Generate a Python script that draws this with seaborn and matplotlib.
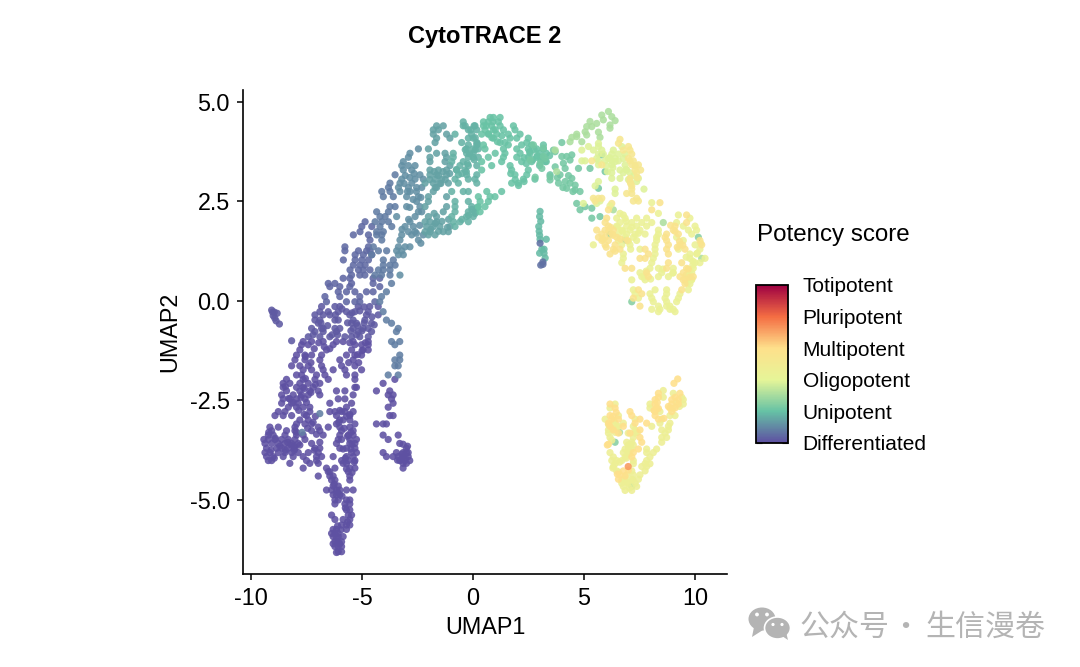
import matplotlib
matplotlib.use("Agg")
import matplotlib.pyplot as plt
import numpy as np
import pandas as pd
import seaborn as sns
from matplotlib.cm import ScalarMappable
from matplotlib.colors import LinearSegmentedColormap, Normalize
from matplotlib.patches import Circle, Ellipse, Polygon

# Cells are listed row by row: UMAP2 value -> UMAP1 values, grouped by potency score.
DIFF_DEEP = {
    -1.02: [-7.65, -7.27, -6.75, -6.15, -5.85, -5.4, -4.72], -1.1: [-7.72, -7.42, -6.3, -5.32, -5.02, -4.72],
    -1.23: [-7.8, -6.6, -5.47, -4.95, -4.72], -1.36: [-7.95, -7.57, -7.27, -6.82, -5.7, -5.32, -5.02],
    -1.48: [-8.02, -7.57, -6.9, -6.0, -5.4], -1.63: [-8.17, -7.8, -7.42, -6.82, -5.92, -5.32],
    -1.73: [-7.65, -7.27, -6.75, -6.3, -5.77, -5.02], -1.86: [-7.95, -7.72, -7.05, -6.67, -5.7, -5.32],
    -1.97: [-8.4, -7.65, -7.12, -6.52, -5.32, -3.52], -2.07: [-8.55, -8.25, -7.8, -7.42, -6.9, -4.05],
    -2.17: [-8.55, -7.95, -7.65, -7.2, -5.32, -5.25], -2.26: [-8.4, -7.8, -7.35, -6.97, -6.15, -5.77, -4.35, -3.75],
    -2.36: [-8.62, -8.1, -7.72, -7.42, -6.9, -5.4, -3.82, -3.6], -2.46: [-8.55, -8.25, -7.95, -7.57, -6.07, -5.77, -3.67],
    -2.57: [-8.62, -8.17, -7.87, -6.45, -5.47, -3.6], -2.67: [-8.32, -7.95, -7.65, -7.35, -5.7, -3.82],
    -2.78: [-8.77, -8.47, -7.35, -6.45, -6.22, -5.92, -5.77, -5.4], -2.88: [-8.92, -8.55, -8.17, -7.5, -6.15, -5.55, -3.6, -3.75],
    -2.99: [-7.8, -7.42, -6.0, -5.85, -5.55], -3.09: [-7.95, -7.57, -7.27, -6.15, -5.32, -4.35, -4.05, -3.9],
    -3.17: [-9.15, -8.77, -8.02, -6.97, -6.52, -6.0, -5.55], -3.26: [-9.07, -8.4, -8.02, -7.27, -6.9, -5.92, -5.4],
    -3.37: [-9.22, -9.0, -8.47, -7.95, -7.65, -6.75, -6.0, -5.62, -5.4, -4.05, -3.37],
    -3.48: [-9.42, -9.22, -8.92, -8.62, -8.32, -8.02, -7.57, -6.07, -5.92, -5.55, -5.25, -3.82],
    -3.58: [-9.37, -9.07, -8.77, -8.47, -8.17, -7.87, -7.27, -6.15, -5.55, -5.32, -3.3],
    -3.7: [-9.3, -8.85, -8.62, -8.32, -8.02, -7.12, -6.9, -6.0, -5.7, -5.32, -3.0],
    -3.81: [-9.37, -9.15, -8.77, -8.47, -8.17, -7.87, -7.42, -6.97, -5.47, -5.25, -4.05, -3.45, -3.15, -2.92],
    -3.91: [-9.3, -9.0, -8.55, -8.1, -7.65, -7.05, -6.82, -6.3, -5.7, -5.4, -3.9, -3.6, -3.37, -3.15, -2.92],
    -4.01: [-9.22, -9.07, -7.5, -7.05, -5.92, -5.62, -5.32, -3.3, -3.07, -2.85],
    -4.08: [-8.25, -7.35, -6.97, -5.85, -5.7, -3.15, -3.0], -4.2: [-7.65, -6.6, -6.22, -5.55, -5.32, -3.15],
    -4.29: [-6.52, -6.45, -5.62], -4.4: [-6.97, -6.45, -6.3, -5.55], -4.5: [-6.37, -6.22, -5.55], -4.65: [-6.3, -6.07],
    -4.75: [-6.6, -6.37, -6.15, -6.0, -5.7, -5.4], -4.87: [-6.3, -6.15, -6.0], -5.0: [-6.22, -6.07, -5.7, -5.55],
    -5.1: [-6.22, -5.77, -5.55], -5.25: [-5.7, -5.55], -5.38: [-6.37, -5.62, -5.47], -5.49: [-6.22, -5.85, -5.55],
    -5.63: [-5.92, -5.7, -5.55], -5.74: [-6.3, -6.15, -5.7], -5.84: [-6.37, -6.22, -6.07], -5.92: [-6.3, -6.07, -5.85],
    -6.05: [-6.22, -6.07, -5.92], -6.17: [-6.22, -6.07, -5.92], -6.3: [-6.07, -5.92],
}
DIFF_DEEP_EXTRA = {
    -3.45: [-8.9], -3.65: [-8.7, -8.05 + 0, -2.95], -3.75: [-9.1, -8.05, -8.45, -7.15], -3.62: [-8.2, -7.8],
    -3.3: [-9.2, -7.95, -5.5], -3.95: [-8.95, -5.75, -3.05], -3.55: [-8.35, -6.9], -2.2: [-7.6], -2.42: [-7.75],
    -2.55: [-7.5, -8.1], -2.3: [-7.3], -2.1: [-7.1], -1.95: [-7.55], -2.75: [-7.85, -6.0], -2.85: [-7.6, -5.55],
    -2.45: [-8.3], -2.15: [-8.45], -1.55: [-7.3, -5.6, -5.15], -1.4: [-7.55], -1.2: [-7.15, -6.45], -1.05: [-6.95, -5.55, -4.85],
    -1.15: [-6.7], -2.9: [-7.1, -5.7], -3.05: [-7.2, -6.05], -3.2: [-7.45, -5.8], -3.35: [-7.05], -3.4: [-5.65],
    -3.72: [-5.85, -5.5], -3.6: [-5.45, -3.15], -4.05: [-5.35], -4.22: [-5.7], -4.31: [-5.45], -4.6: [-6.25],
    -4.8: [-6.1], -4.9: [-5.9], -5.2: [-5.75], -5.55: [-5.65], -5.95: [-6.15], -6.1: [-6.0, -6.3], -6.32: [-6.15],
    -5.75: [-5.95], -5.65: [-6.1], -3.85: [-3.2], -4.0: [-3.25, -3.4], -3.8: [-3.0], -1.25: [-5.0], -1.35: [-5.2],
}
DIFF_UPPER = {
    -0.23: [-9.07], -0.28: [-8.95, -9.03], -0.31: [-8.82], -0.37: [-9.0], -0.43: [-8.93], -0.5: [-8.87], -0.55: [-8.8],
    -0.58: [-8.72], -0.62: [-8.68],
    -0.14: [-6.82, -6.22, -6.0, -5.17, -4.65, -4.27], -0.27: [-6.9, -6.52, -6.07, -5.7, -5.32, -4.72],
    -0.35: [-7.12, -6.75, -6.45, -5.55, -4.8, -4.27, -6.2], -0.48: [-7.12, -6.9, -6.22, -6.07, -5.4, -4.87],
    -0.56: [-6.97, -5.47, -5.25, -4.57], -0.69: [-7.27, -6.82, -6.75, -6.22, -6.0, -5.4, -4.95, -4.72],
    -0.77: [-7.12, -6.75, -6.15, -5.17, -4.57], -0.9: [-7.42, -6.9, -6.45, -5.77, -5.47, -5.1, -4.72], -1.0: [-8.17],
    -0.85: [-7.2, -5.25, -6.35, -6.1], -0.62: [-6.55, -5.2], -0.55: [-6.85, -4.9, -5.65], -0.75: [-5.5, -5.0],
    -0.2: [-5.9], -0.3: [-5.45], -0.25: [-5.1], -0.15: [-4.9], -0.4: [-4.55], -0.6: [-4.45],
}
DIFF_TOP = {
    0.44: [-6.52, -6.22, -5.47, -4.5], 0.36: [-6.45, -6.0, -5.55, -4.2], 0.23: [-6.07, -5.7, -5.32, -4.8, -4.5],
    0.11: [-6.67, -6.0, -5.1], -0.02: [-6.6, -5.7, -5.32, -5.1, -4.42], 0.57: [-5.85, -5.55, -4.5, -4.2],
}
STRAND = {
    0.44: [-3.67], 0.23: [-3.9], 0.11: [-4.12], -0.02: [-4.2], -0.27: [-4.05], -0.48: [-3.9], -0.56: [-3.67],
    -0.69: [-3.37], -0.77: [-3.45], -1.02: [-3.67, -3.3], -1.1: [-3.52], -1.36: [-3.3], -1.48: [-3.52, -3.3],
    -1.63: [-3.37, -3.52], -1.86: [-3.82, -3.37], -2.83: [-6.9], -3.3: [-7.7],
}
ARC_1 = {
    0.65: [-5.47, -5.1, -4.87], 0.78: [-5.54, -5.16, -4.94, -4.64], 0.9: [-5.39, -5.09, -4.86],
    1.03: [-5.84, -5.31, -5.01, -4.71], 1.16: [-5.31, -4.94, -4.56], 1.26: [-5.77, -5.16, -4.79, -4.64],
    1.36: [-5.77, -4.71], 1.53: [-4.64], 1.66: [-5.39, -4.71], 1.74: [-5.09], 1.87: [-5.01, -4.56], 1.99: [-4.86],
}
ARC_2 = {
    0.65: [-4.42, -4.12, -3.74], 0.78: [-4.26, -4.04, -3.74], 0.9: [-4.04, -3.74, -3.51], 1.03: [-4.04, -3.59],
    1.16: [-4.56], 1.26: [-4.26, -3.89], 1.36: [-4.49], 1.53: [-4.11], 1.66: [-4.34, -4.11], 1.74: [-4.34, -4.04],
    1.87: [-4.19, -3.66], 1.99: [-4.41, -4.11, -3.81], 2.12: [-4.19, -3.96], 2.24: [-4.34, -3.81],
    2.37: [-3.74, -3.51], 2.62: [-4.04, -3.59], 2.75: [-4.11, -3.74], 2.85: [-3.81], 2.96: [-3.74], 3.17: [-3.51],
}
ARC_3 = {
    0.65: [-3.29], 1.16: [-3.36, -3.14], 1.26: [-3.44, -3.21], 1.36: [-3.36, -3.06, -2.84], 1.45: [-2.35],
    1.53: [-3.29, -2.46], 1.66: [-3.21, -2.76, -2.24], 1.7: [-2.55], 1.74: [-2.91, -2.61], 1.8: [-3.2],
    1.87: [-3.06, -2.69], 1.9: [-2.4], 1.99: [-2.84], 2.05: [-2.9], 2.12: [-3.44, -2.61],
    2.24: [-2.46, -2.31], 2.35: [-2.85], 2.37: [-2.99, -2.39], 2.5: [-2.54], 2.55: [-2.7], 2.6: [-2.35],
    2.62: [-2.99, -2.46], 2.75: [-3.29, -2.84, -2.95, -2.55],
    2.85: [-3.36, -2.91, -2.54, -2.31], 2.95: [-3.1], 2.96: [-3.29, -2.76], 3.06: [-3.21, -2.61, -2.24], 3.1: [-2.85],
    3.15: [-3.05], 3.17: [-2.39], 3.2: [-2.65],
    3.29: [-3.14, -2.76], 3.4: [-3.21, -2.91, -2.61], 3.5: [-3.14], 3.61: [-2.91], 3.71: [-2.84], 3.82: [-2.46],
}
ARC_4 = {
    1.66: [-2.01, -1.71], 1.74: [-2.16, -1.94, -1.34, -1.11], 1.75: [-1.55], 1.8: [-1.9], 1.85: [-1.15],
    1.87: [-2.09, -1.79, -1.49, -1.04], 1.95: [-1.7],
    1.99: [-2.16, -1.94, -1.64], 2.0: [-1.4], 2.05: [-1.1], 2.12: [-2.01, -1.64], 2.2: [-1.75], 2.24: [-1.34],
    2.37: [-2.16, -1.19], 2.5: [-2.01],
    2.62: [-2.01, -1.19], 2.75: [-1.79], 2.85: [-1.64, -1.7], 2.95: [-1.45], 2.96: [-2.16, -1.79, -1.49, -1.11],
    3.05: [-1.95, -1.25], 3.06: [-1.71, -1.41], 3.15: [-1.55],
    3.17: [-1.94, -1.64, -1.19], 3.2: [-1.05], 3.25: [-1.35, -1.75], 3.29: [-1.94, -1.56, -1.19], 3.4: [-1.04],
    3.5: [-1.94, -1.26], 3.61: [-1.94, -1.19],
    3.71: [-1.64, -1.26], 3.82: [-2.01], 3.98: [-1.71], 4.09: [-1.64, -1.04], 4.19: [-1.79, -1.19], 4.3: [-1.79, -1.56],
    4.4: [-1.64, -1.34],
}
ARC_5 = {
    1.87: [-0.81], 1.99: [-0.88, -0.58, -0.21], 2.05: [-0.5], 2.12: [-0.96, -0.29, 0.01], 2.15: [-0.2], 2.2: [0.1],
    2.24: [-0.81, -0.21, 0.09], 2.3: [-0.05], 2.35: [0.2],
    2.37: [-0.81, -0.06], 2.5: [-0.81, -0.21], 2.75: [-0.96, -0.44, -0.21], 2.96: [-0.66, 0.17],
    3.06: [-0.81, -0.21, 0.09], 3.17: [-0.66, -0.29, 0.17], 3.2: [-0.5], 3.25: [-0.3], 3.29: [-0.74, -0.36], 3.3: [-0.75],
    3.4: [-0.59, -0.21, 0.17], 3.45: [-0.25],
    3.5: [-0.96, -0.44], 3.55: [0.05], 3.61: [-0.89, -0.21, 0.01, 0.24], 3.7: [-0.15], 3.71: [-0.89, -0.29, 0.01],
    3.8: [-0.35, 0.1], 3.82: [-0.29, 0.01, 0.24], 3.92: [-0.21, 0.17], 3.95: [0.2], 3.98: [-0.51, 0.17], 4.09: [-0.21, 0.01],
    4.1: [0.1], 4.19: [-0.81, -0.06], 4.3: [-0.21, 0.17, -0.1], 4.4: [-0.44, 0.09, -0.35, 0.05], 4.5: [-0.44],
}
ARC_6 = {
    2.24: [0.32], 2.37: [0.24, 0.54], 2.5: [0.32, 0.69], 2.62: [0.24, 0.77, 0.99], 2.75: [0.62, 1.29], 2.96: [1.74, 2.04],
    2.9: [2.05], 3.0: [2.3], 3.05: [1.9], 3.2: [1.7],
    3.06: [2.27, 2.79], 3.17: [1.89, 2.42, 3.47], 3.29: [0.39, 1.74, 2.49], 3.4: [0.84, 1.67, 3.0], 3.45: [2.4],
    3.5: [0.39, 1.29, 2.19, 2.64, 3.25, 3.3], 3.55: [2.7, 3.05], 3.6: [2.3], 3.61: [0.69, 1.37, 1.97, 2.49, 2.87, 3.09],
    3.65: [2.9, 3.45], 3.71: [1.0, 1.44, 2.12, 2.57, 3.0, 3.3], 3.75: [2.55], 3.8: [2.75],
    3.82: [0.54, 1.37, 1.97, 2.49, 2.87, 3.17],
    3.92: [0.47, 1.59, 2.19, 2.64, 3.17], 3.98: [1.22, 1.44, 2.42], 4.0: [1.1], 4.09: [0.92, 1.67, 1.97, 2.49],
    4.1: [0.85], 4.15: [1.3], 4.19: [0.39, 0.69, 1.07, 1.59, 2.12], 4.2: [0.7], 4.3: [0.54, 0.92, 1.37, 1.89, 1.0],
    4.4: [0.47, 0.84, 1.22, 1.82, 0.6], 4.5: [0.47, 0.69, 1.14, 0.9], 4.61: [0.77, 0.92, 1.22],
}
ARC_7 = {
    3.98: [4.0], 3.79: [3.62], 3.75: [3.7], 3.92: [2.72], 3.84: [3.17], 3.67: [2.72], 3.63: [3.17, 4.22, 4.0],
    3.54: [2.57, 4.37], 3.46: [3.02, 4.07], 3.58: [3.25], 3.33: [3.1, 4.15, 4.75, 5.27], 3.11: [2.8],
    3.37: [3.7], 3.17: [3.92], 3.12: [3.47], 3.04: [3.47], 2.96: [3.85, 4.37], 3.0: [4.15], 3.08: [4.45],
    2.91: [4.6], 2.85: [4.05], 2.83: [4.22, 5.65], 2.79: [4.6], 2.75: [4.82, 4.5], 3.15: [4.3], 3.1: [3.8],
    2.45: [4.67], 2.37: [5.05], 2.29: [4.82], 2.33: [5.35],
    2.08: [5.35], 2.12: [5.72], 3.25: [5.95], 3.67: [4.45, 5.8],
}
ARC_TIP = {
    4.76: [6.1], 4.63: [6.25], 4.67: [5.8], 4.51: [5.27], 4.46: [5.57], 4.53: [6.4], 4.55: [5.87], 4.42: [6.17],
    4.38: [5.35, 5.12], 4.34: [6.17], 4.25: [5.05], 4.24: [5.65], 4.19: [4.67], 4.17: [5.12], 4.11: [4.45, 5.72],
    4.13: [4.67], 4.0: [4.37, 4.9], 3.79: [3.7], 3.25: [3.77], 2.29: [6.32], 1.97: [8.57], 1.07: [10.3], -3.3: [6.6],
    -4.66: [7.15],
}
SIDE_ISLET = {
    2.25: [3.02], 2.12: [3.0], 2.0: [3.05], 1.87: [2.96], 1.75: [2.98], 1.65: [3.0], 1.55: [3.02, 3.3],
    1.3: [3.1, 3.2], 1.2: [3.0, 3.2], 1.08: [3.25],
}
SIDE_ISLET_DARK = {1.45: [3.02], 0.98: [3.15], 0.9: [3.05], 0.92: [3.15]}
TEAL_SINGLES = {1.68: [6.17], 1.53: [6.85], 1.6: [10.15], -0.02: [7.15], -3.55: [6.4]}
UPPER_YELLOW = {
    3.96: [5.65], 3.88: [5.2, 5.65, 6.7], 3.79: [4.9, 5.42, 5.8, 6.32], 3.69: [5.65, 5.87, 6.25, 6.55, 6.85],
    3.6: [6.15], 3.58: [5.57, 6.1, 6.4, 6.77], 3.52: [4.9, 5.05, 5.65, 5.95, 6.25, 6.55], 3.5: [6.4],
    3.42: [5.65, 6.25, 6.85], 3.4: [6.0], 3.35: [6.3], 3.3: [6.9], 3.25: [6.05], 3.15: [7.25], 3.05: [7.0],
    3.29: [6.62, 6.92], 3.22: [6.25, 6.77, 7.07], 3.08: [6.25, 6.62, 7.45], 3.0: [5.65, 7.37], 2.89: [5.5],
    2.81: [6.4, 7.7], 2.7: [6.4], 2.51: [5.72], 2.45: [4.97, 5.57],
}
UPPER_PEACH = {
    4.06: [6.62], 3.96: [6.55], 3.88: [7.0], 3.79: [6.77, 7.07], 3.69: [7.15], 3.58: [7.0], 3.52: [5.35, 7.07, 7.22],
    3.42: [5.8, 7.15, 7.45], 3.4: [7.3], 3.29: [7.3, 7.55], 3.22: [7.37], 3.1: [7.4], 3.08: [7.07], 3.0: [7.07],
    2.95: [7.1], 2.89: [7.15], 2.81: [7.15],
    2.7: [6.92, 7.15], 2.58: [5.42, 5.65, 5.8, 7.37], 2.51: [5.5, 7.22, 7.45], 2.45: [6.25],
}
BLOB_YELLOW = {
    2.47: [8.05], 2.39: [6.17], 2.2: [6.62, 8.35], 2.16: [6.77, 9.25], 2.08: [6.47, 6.85, 7.37, 7.82, 9.77],
    2.0: [6.9], 1.97: [6.62, 7.15, 7.6, 8.05, 9.17], 1.88: [6.47, 6.92, 7.37, 7.82, 9.47, 10.0], 1.85: [7.15, 6.5],
    1.78: [6.7, 7.07, 7.52, 8.35, 9.7, 10.07], 1.75: [6.75], 1.7: [7.45], 1.68: [6.55, 6.92, 7.3, 7.75, 8.35, 9.85],
    1.6: [6.85, 7.22, 8.27, 9.17], 1.52: [6.55, 7.37, 8.27, 9.47], 1.5: [7.0], 1.45: [10.25],
    1.41: [5.42, 6.7, 7.07, 8.2, 10.0], 1.3: [7.52, 8.2, 9.25, 10.22, 7.1], 1.2: [10.1],
    1.18: [6.77, 8.2, 9.77, 10.07], 1.1: [9.6], 1.07: [6.77, 8.12, 9.77, 10.45], 1.0: [9.9],
    0.96: [6.7, 8.05, 10.0, 10.22], 0.9: [9.9], 0.82: [7.97, 8.35, 9.02, 9.92], 0.8: [8.55], 0.75: [9.75, 7.8],
    0.71: [7.52, 8.5, 9.02, 9.85], 0.7: [9.0], 0.65: [9.6], 0.6: [7.7],
    0.61: [7.6, 8.35, 8.8, 9.7], 0.55: [9.85, 8.0], 0.53: [7.15, 7.75, 9.85], 0.45: [9.65], 0.43: [9.77],
    0.28: [7.22, 8.2, 8.72, 9.7],
    0.18: [7.3, 7.97, 8.72, 9.32], 0.07: [7.45, 8.05, 8.65, 9.25], -0.02: [8.12, 8.72, 9.17],
    -0.13: [8.35, 8.72, 8.87], -0.21: [8.05, 8.42, 8.87, 9.02], -0.27: [8.35, 9.1],
}
BLOB_PEACH = {
    2.47: [8.42], 2.29: [6.1, 8.05], 2.16: [9.62], 2.08: [6.02], 1.97: [5.95, 9.62], 1.9: [8.9],
    1.88: [6.1, 9.1], 1.85: [6.2], 1.78: [5.57, 5.95, 6.32, 9.02], 1.75: [6.1, 9.1],
    1.68: [5.8, 6.27, 8.72, 9.25], 1.65: [6.3], 1.6: [5.65, 5.95, 6.47, 8.65], 1.55: [5.85, 6.65],
    1.52: [5.8, 6.1, 6.95, 8.72, 10.22], 1.5: [9.3], 1.41: [5.95, 6.4, 8.8, 9.32, 10.3], 1.4: [9.45],
    1.35: [9.2, 6.0], 1.3: [6.32, 6.62, 7.75, 8.72, 9.55], 1.25: [6.4],
    1.18: [6.17, 7.9, 8.8], 1.07: [7.52, 7.75], 0.96: [8.8, 9.4], 0.82: [6.85, 7.15, 8.72, 9.62], 0.8: [9.7],
    0.71: [7.82, 9.47], 0.6: [9.75], 0.61: [7.9, 9.32, 9.92], 0.55: [9.55], 0.53: [9.47], 0.43: [9.55],
    0.28: [7.45, 9.4], 0.18: [7.6], 0.07: [7.22], -0.13: [7.52],
}
LOBE_YELLOW = {
    -2.25: [8.57], -2.32: [9.02], -2.42: [8.57, 9.4], -2.48: [9.47], -2.55: [9.15], -2.59: [6.4, 7.97, 9.47],
    -2.65: [9.3], -2.69: [6.17, 7.97], -2.7: [9.0],
    -2.78: [8.42], -2.88: [6.55, 8.87, 9.1], -2.97: [5.95, 7.3, 8.5], -3.0: [6.35], -3.07: [6.4, 6.77, 8.42, 8.87],
    -3.1: [6.1], -3.15: [6.47, 7.22, 8.05, 8.8, 6.55], -3.2: [6.25], -3.24: [6.1, 7.3, 8.5, 8.8], -3.3: [6.4, 7.4],
    -3.32: [6.1, 6.99, 7.3, 8.65], -3.43: [6.17, 7.22, 8.5, 8.72], -3.5: [6.25], -3.55: [6.92, 7.15, 8.5],
    -3.6: [7.1], -3.62: [6.99, 7.22], -3.7: [7.0], -3.72: [6.85, 7.15, 7.82, 8.27], -3.85: [7.05],
    -3.81: [6.17, 6.77, 6.99, 7.82, 8.12], -3.92: [6.32, 6.85, 7.97], -3.95: [6.9],
    -4.01: [6.25, 6.47, 6.7, 7.22, 7.82], -4.05: [6.6],
    -4.09: [6.4, 7.22, 7.75, 7.97], -4.16: [6.32, 7.6, 7.82], -4.2: [6.3], -4.27: [6.47, 7.15, 7.75], -4.3: [6.55],
    -4.37: [6.92, 7.22, 7.52], -4.48: [6.85, 7.15, 7.45], -4.5: [6.7, 7.2], -4.55: [6.95],
    -4.58: [6.7, 6.99, 7.3], -4.66: [6.77, 7.37], -4.7: [7.05], -4.76: [6.85, 7.15],
}
LOBE_PEACH = {
    -1.96: [9.22], -2.07: [9.05], -2.32: [8.35, 9.32], -2.42: [8.35, 9.1], -2.48: [8.2, 8.95, 9.25], -2.55: [8.3],
    -2.59: [6.17, 8.2, 8.95, 9.25], -2.65: [8.8], -2.69: [6.4, 8.27, 8.87, 9.1], -2.7: [8.35], -2.75: [8.15],
    -2.78: [7.07, 8.2, 8.95], -2.8: [6.45], -2.88: [6.17, 7.15, 8.2], -2.9: [6.3], -2.95: [8.6],
    -2.97: [6.25, 6.55, 7.52, 8.35], -3.07: [6.1, 7.3, 7.82],
    -3.15: [6.17, 6.77], -3.24: [6.32, 7.52], -3.32: [6.55, 7.07], -3.43: [7.52], -3.55: [7.6], -3.6: [6.1], -3.62: [6.05],
    -3.72: [7.45], -3.81: [7.22], -3.92: [7.15], -4.25: [7.0], -4.27: [6.77], -4.35: [6.5], -4.37: [6.62],
    -4.4: [6.85], -4.48: [6.55],
}
LOBE_HOT = {-4.16: [6.99]}

# Potency score of each group of cells.
GROUP_SCORES = [
    (DIFF_DEEP, 0.005), (DIFF_DEEP_EXTRA, 0.005), (DIFF_UPPER, 0.02), (DIFF_TOP, 0.04), (STRAND, 0.085), (ARC_1, 0.05),
    (ARC_2, 0.08), (ARC_3, 0.115), (ARC_4, 0.145), (ARC_5, 0.175), (ARC_6, 0.205), (ARC_7, 0.225), (ARC_TIP, 0.31),
    (SIDE_ISLET, 0.19), (SIDE_ISLET_DARK, 0.06), (TEAL_SINGLES, 0.25), (UPPER_YELLOW, 0.39), (UPPER_PEACH, 0.53),
    (BLOB_YELLOW, 0.44), (BLOB_PEACH, 0.57), (LOBE_YELLOW, 0.46), (LOBE_PEACH, 0.6), (LOBE_HOT, 0.72),
]
POTENCY_LABELS = ["Differentiated", "Unipotent", "Oligopotent", "Multipotent", "Pluripotent", "Totipotent"]
POTENCY_TICKS = [0.0, 0.2, 0.4, 0.6, 0.8, 1.0]
POTENCY_COLORS = ["#5E4FA2", "#66C2A5", "#E6F598", "#FEE08B", "#F46D43", "#9E0142"]

records = [
    (x, y, score)
    for rows, score in GROUP_SCORES
    for y, xs in rows.items()
    for x in xs
]
cells = pd.DataFrame(records, columns=["UMAP1", "UMAP2", "score"])

sns.set_theme(style="ticks")
plt.rcParams["font.family"] = ["Liberation Sans", "DejaVu Sans"]
plt.rcParams["axes.unicode_minus"] = False

W, H = 1080, 667
fig = plt.figure(figsize=(W / 100, H / 100), dpi=100, facecolor="white")
ax = fig.add_axes([243 / W, 1 - 574 / H, (727 - 243) / W, (574 - 90) / H])

potency_cmap = LinearSegmentedColormap.from_list("potency", POTENCY_COLORS)
sns.scatterplot(
    data=cells, x="UMAP1", y="UMAP2", hue="score", hue_norm=(0, 1), palette=potency_cmap,
    s=27, linewidth=0, alpha=0.88, legend=False, ax=ax,
)

ax.set_xlim(-10.36, 11.44)
ax.set_ylim(-6.86, 5.3)
ax.set_xticks([-10, -5, 0, 5, 10])
ax.set_xticklabels(["-10", "-5", "0", "5", "10"])
ax.set_yticks([-5.0, -2.5, 0.0, 2.5, 5.0])
ax.set_yticklabels(["-5.0", "-2.5", "0.0", "2.5", "5.0"])
ax.tick_params(labelsize=16.8, length=4.5, width=1.1, color="black", labelcolor="black", pad=5)
ax.set_xlabel("UMAP1", fontsize=16.8, color="black", labelpad=4)
ax.set_ylabel("UMAP2", fontsize=16.8, color="black", labelpad=6)
ax.set_title("CytoTRACE 2", fontsize=17, fontweight="bold", color="black", pad=33.5)
for side in ("left", "bottom"):
    ax.spines[side].set_linewidth(1.2)
    ax.spines[side].set_color("black")
sns.despine(ax=ax)

# Colour bar with potency categories.
cax = fig.add_axes([756 / W, 1 - 443 / H, 32 / W, 158 / H])
cbar = fig.colorbar(ScalarMappable(Normalize(0, 1), potency_cmap), cax=cax)
cbar.set_ticks(POTENCY_TICKS)
cbar.set_ticklabels(POTENCY_LABELS)
cax.tick_params(left=True, right=True, direction="in", length=4, width=0.8, color="#222222",
                labelsize=15, labelcolor="black", pad=10.5)
cbar.outline.set_linewidth(1.3)
cbar.outline.set_edgecolor("black")
fig.text(757 / W, 1 - 235 / H, "Potency score", fontsize=17.4, color="black", va="center", ha="left")

# Channel badge in the lower right corner.
overlay = fig.add_axes([0, 0, 1, 1], facecolor="none")
overlay.set_xlim(0, W)
overlay.set_ylim(H, 0)
overlay.axis("off")
badge = "#b4b4b4"
overlay.add_patch(Ellipse((762, 619), 27, 23, color=badge, lw=0))
overlay.add_patch(Polygon([(754, 627), (752, 637), (763, 630)], color=badge, lw=0))
overlay.add_patch(Ellipse((777.5, 628), 26, 22, facecolor=badge, edgecolor="white", lw=1.2))
overlay.add_patch(Polygon([(782, 636), (788, 640), (786, 632)], color=badge, lw=0))
for cx, cy, r in [(757, 614.5, 1.9), (767, 614.5, 1.9), (773, 624.5, 1.6), (782, 624.5, 1.6)]:
    overlay.add_patch(Circle((cx, cy), r, color="white", lw=0))
cjk = ["Noto Sans CJK SC", "DejaVu Sans"]
overlay.text(799, 627, "公众号", color="#b4b4b4", fontsize=21.6, va="center", ha="left", family=cjk)
overlay.text(905, 627, "·", color="#b4b4b4", fontsize=21.6, va="center", ha="center", family=cjk)
overlay.text(925, 627, "生信漫卷", color="#b4b4b4", fontsize=21.6, va="center", ha="left", family=cjk)

fig.savefig("out.png", dpi=100)
